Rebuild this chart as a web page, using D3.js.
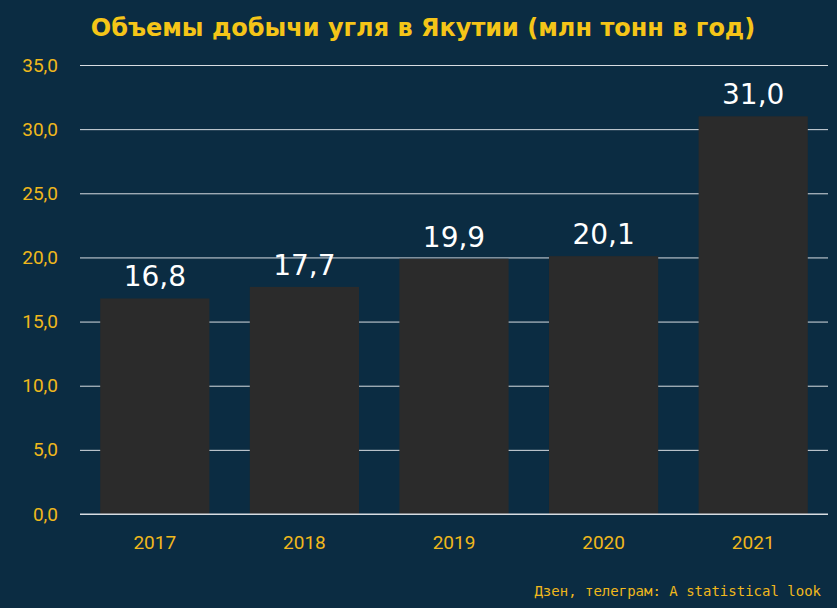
<!DOCTYPE html>
<html><head><meta charset="utf-8">
<script src="https://cdn.jsdelivr.net/npm/d3@7"></script>
<style>body{margin:0;background:#0b2c42;}svg{display:block}</style>
</head><body>
<svg id="c" width="837" height="608"></svg>
<script>
const categories = ["2017","2018","2019","2020","2021"];
const values = [16.8, 17.7, 19.9, 20.1, 31.0];
const yTicks = [0,5,10,15,20,25,30,35];
const title = "Объемы добычи угля в Якутии (млн тонн в год)";
const source = "Дзен, телеграм: A statistical look";

const svg = d3.select("#c");
svg.append("rect").attr("width",837).attr("height",608).attr("fill","#0b2c42");
const fmt = v => v.toFixed(1).replace(".", ",");
const x = d3.scaleBand().domain(categories).range([80,828]).paddingInner(0.27).paddingOuter(0.135);
const y = d3.scaleLinear().domain([0,35]).range([514,65]);

const yAxis = svg.append("g").attr("transform","translate(80,0)")
  .call(d3.axisLeft(y).tickValues(yTicks).tickFormat(fmt).tickSize(-748).tickPadding(22));
yAxis.select(".domain").remove();
yAxis.selectAll("line").attr("stroke","#d8dde2").attr("stroke-width",1);
yAxis.selectAll("text").attr("fill","#f0b81c").attr("font-family","Roboto, sans-serif").attr("font-size",19).attr("dx",0).attr("text-anchor","end").attr("x",-22);

svg.selectAll("rect.bar").data(values).enter().append("rect").attr("class","bar")
  .attr("x",(d,i)=>x(categories[i])).attr("width",x.bandwidth())
  .attr("y",d=>y(d)).attr("height",d=>y(0)-y(d)).attr("fill","#2b2b2b");

svg.append("line").attr("x1",80).attr("x2",828).attr("y1",y(0)).attr("y2",y(0)).attr("stroke","#d8dde2");

const xAxis = svg.append("g").attr("transform",`translate(0,${y(0)})`)
  .call(d3.axisBottom(x).tickSize(0).tickPadding(22));
xAxis.select(".domain").remove();
xAxis.selectAll("text").attr("fill","#f0b81c").attr("font-family","Roboto, sans-serif").attr("font-size",19);

svg.selectAll("text.val").data(values).enter().append("text").attr("class","val")
  .attr("x",(d,i)=>x(categories[i])+x.bandwidth()/2).attr("y",d=>y(d)-12)
  .attr("text-anchor","middle").attr("fill","#ffffff")
  .attr("font-family","'DejaVu Sans', sans-serif").attr("font-size",28).text(fmt);

svg.append("text").attr("x",423).attr("y",36).attr("text-anchor","middle")
  .attr("fill","#f5c518").attr("font-family","'DejaVu Sans', sans-serif").attr("font-weight","bold")
  .attr("font-size",24).text(title);

svg.append("text").attr("x",821).attr("y",596).attr("text-anchor","end")
  .attr("fill","#f0b81c").attr("font-family","'DejaVu Sans Mono', monospace").attr("font-size",14).text(source);
</script>
</body></html>
